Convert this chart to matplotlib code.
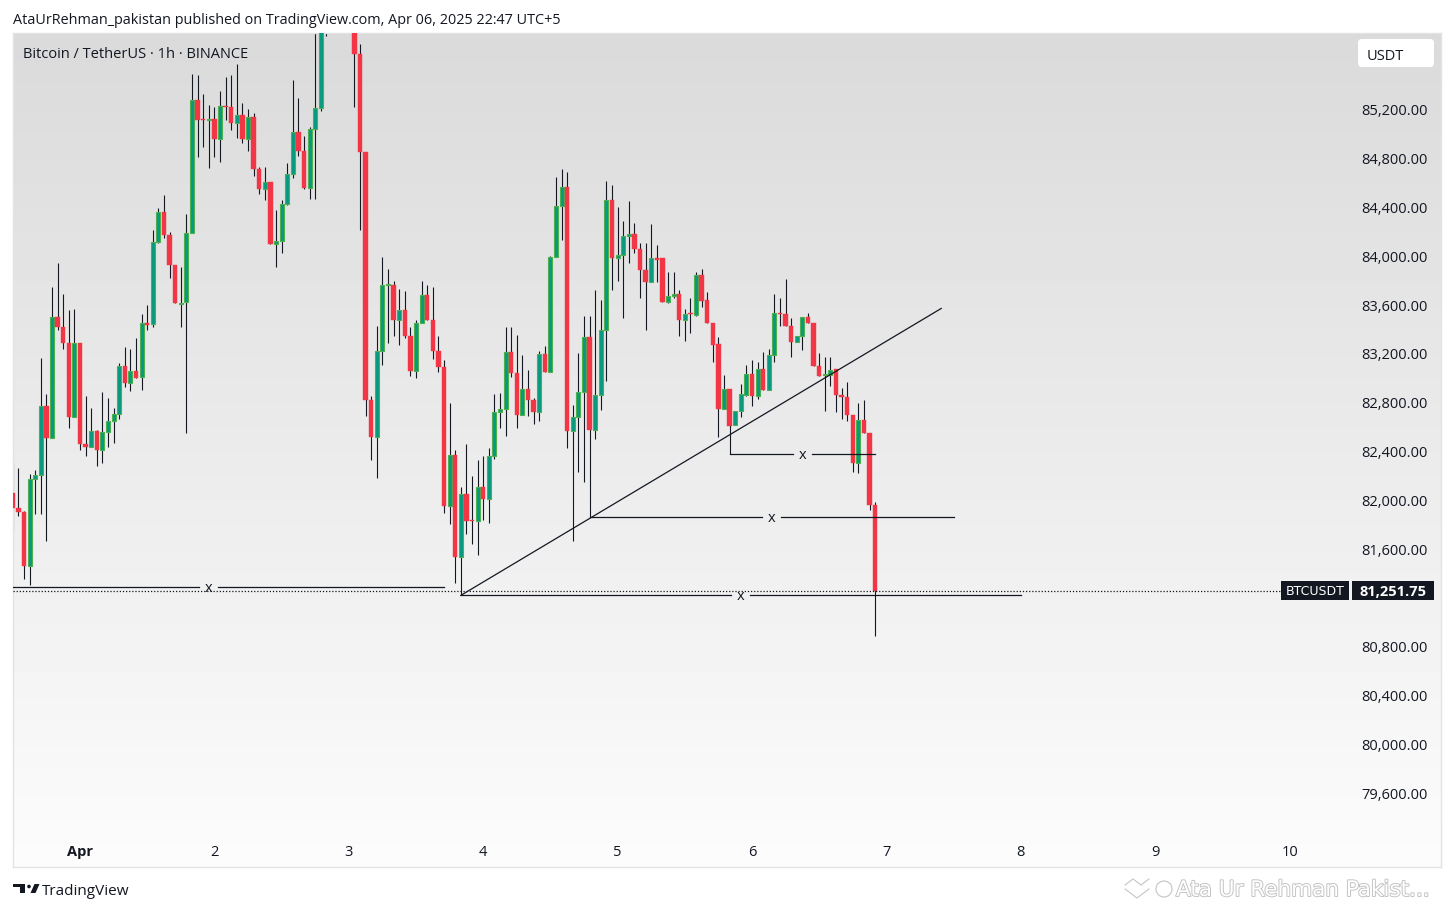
import matplotlib
matplotlib.use("Agg")
import matplotlib.pyplot as plt
import numpy as np
from matplotlib.patches import Rectangle, FancyBboxPatch, Polygon, Circle
from matplotlib import patheffects, font_manager
import matplotlib.transforms as mtransforms

plt.rcParams['font.family'] = ['Open Sans', 'DejaVu Sans']

# BTCUSDT 1h candles (UTC+5), first candle = Mar 31 12:00
start_hour = -12  # hours from Apr 1 00:00
opens = [82051, 81932, 81897, 81456, 82164, 82200, 82766, 82504, 83495, 83409,
         83278, 82677, 83278, 82456, 82427, 82557, 82403, 82552, 82641, 82700,
         83093, 82950, 83052, 83004, 83445, 83439, 84109, 84353, 84165, 83921,
         83600, 83617, 84180, 85276, 85112, 85112, 85118, 84957, 85225, 85216,
         85088, 85148, 84951, 85136, 84704, 84540, 84600, 84094, 84120, 84421,
         84665, 85013, 84853, 84555, 85037, 85207, 86300, 86600, 87000, 87300,
         87800, 88100, 85648, 84844, 82814, 82507, 83218, 83754, 83757, 83474,
         83555, 83340, 83052, 83445, 83677, 83474, 83212, 83087, 81947, 82367,
         81530, 82040, 81825, 81822, 82099, 82001, 82358, 82712, 82742, 83206,
         83034, 82691, 82903, 82814, 82715, 83192, 83043, 83986, 84403, 84558,
         82557, 82677, 82879, 83331, 82566, 82855, 83391, 84457, 83975, 84004,
         84159, 84174, 84049, 83876, 83778, 83975, 83975, 83614, 83668, 83683,
         83468, 83519, 83510, 83839, 83634, 83445, 83273, 82740, 82904, 82609,
         82726, 82858, 83027, 82849, 83068, 82899, 83183, 83527, 83516, 83418,
         83287, 83336, 83492, 83445, 83095, 83017, 83019, 83068, 82858, 82841,
         82691, 82295, 82653, 82543, 81956]
highs = [82298, 82260, 81900, 82209, 82239, 83162, 82864, 83742, 83936, 83683,
         83549, 83564, 83278, 82843, 82745, 82566, 82879, 82834, 82745, 83117,
         83251, 83236, 83325, 83519, 83594, 84204, 84391, 84493, 84189, 83921,
         83906, 84338, 85484, 85475, 85320, 85231, 85216, 85344, 85463, 85475,
         85573, 85246, 85201, 85171, 84725, 84725, 84600, 84368, 84457, 84754,
         85439, 85290, 84978, 85052, 85900, 86500, 86800, 87200, 87600, 88000,
         88500, 88300, 85737, 84844, 82843, 83421, 83986, 83891, 83787, 83727,
         83707, 83409, 83474, 83787, 83757, 83742, 83340, 83141, 82790, 82403,
         82099, 82453, 82188, 82319, 82358, 82418, 82864, 82873, 83409, 83409,
         83349, 83186, 83064, 82834, 83212, 83260, 83995, 84641, 84710, 84686,
         82769, 83198, 83504, 83504, 83713, 83638, 84612, 84576, 84397, 84278,
         84442, 84263, 84100, 84100, 84257, 84085, 83975, 83867, 83867, 83718,
         83558, 83647, 83862, 83888, 83697, 83445, 83328, 83019, 82904, 82726,
         82945, 83101, 83145, 83123, 83205, 83232, 83683, 83648, 83806, 83484,
         83336, 83492, 83527, 83445, 83199, 83164, 83164, 83068, 82912, 82964,
         82691, 82789, 82814, 82543, 81975]
lows = [81733, 81867, 81346, 81301, 81882, 81882, 81658, 82504, 83385, 83236,
        82581, 82677, 82403, 82358, 82427, 82269, 82298, 82432, 82462, 82656,
        82924, 82885, 82992, 82894, 83385, 83409, 84100, 84144, 83817, 83608,
        83415, 82546, 84180, 84808, 84888, 84716, 84808, 84769, 85112, 85028,
        84963, 84918, 84859, 84650, 84501, 84457, 84094, 83906, 84016, 84412,
        84635, 84814, 84546, 84463, 84463, 85186, 85800, 86400, 86800, 87100,
        87500, 85216, 84204, 82685, 82319, 82173, 83102, 83281, 83340, 83266,
        83325, 83013, 82998, 83445, 83468, 83147, 83043, 81888, 81801, 81316,
        81212, 81718, 81635, 81545, 81831, 81807, 82334, 82587, 82516, 83004,
        82581, 82691, 82685, 82617, 82641, 83043, 83043, 83986, 84123, 82418,
        81658, 82224, 82141, 81852, 82492, 82736, 82968, 83718, 83787, 83489,
        83936, 84016, 83647, 83391, 83778, 83778, 83614, 83608, 83653, 83340,
        83296, 83361, 83504, 83574, 83445, 83123, 82513, 82740, 82371, 82609,
        82677, 82849, 82767, 82822, 82899, 82899, 83123, 83418, 83418, 83164,
        83287, 83227, 83445, 83095, 83013, 82726, 82932, 82713, 82658, 82645,
        82226, 82213, 82543, 81915, 80882]
closes = [81932, 81897, 81456, 82170, 82200, 82766, 82504, 83495, 83409, 83278,
          82677, 83278, 82456, 82427, 82557, 82403, 82552, 82641, 82700, 83093,
          82950, 83052, 82998, 83445, 83430, 84109, 84353, 84165, 83921, 83608,
          83612, 84180, 85276, 85106, 85106, 85118, 84957, 85222, 85219, 85088,
          85148, 84951, 85136, 84704, 84540, 84600, 84094, 84120, 84421, 84665,
          85013, 84853, 84555, 85037, 85207, 86300, 86600, 87000, 87300, 87800,
          88100, 85648, 84844, 82814, 82507, 83218, 83757, 83760, 83474, 83555,
          83340, 83052, 83445, 83677, 83474, 83212, 83087, 81947, 82367, 81530,
          82040, 81822, 81819, 82099, 82001, 82358, 82712, 82742, 83206, 83034,
          82691, 82903, 82814, 82715, 83192, 83043, 83986, 84403, 84558, 82557,
          82677, 82879, 83331, 82566, 82855, 83391, 84457, 83975, 84004, 84159,
          84174, 84049, 83876, 83778, 83975, 83966, 83614, 83668, 83683, 83468,
          83519, 83516, 83841, 83628, 83445, 83268, 82740, 82904, 82604, 82726,
          82863, 83027, 82849, 83068, 82899, 83183, 83527, 83516, 83418, 83287,
          83336, 83492, 83445, 83095, 83013, 83022, 83063, 82858, 82841, 82691,
          82295, 82653, 82543, 81956, 81251.75]

last_price = 81251.75
day_ticks = [0, 24, 48, 72, 96, 120, 144, 168, 192, 216]
day_labels = ['Apr', '2', '3', '4', '5', '6', '7', '8', '9', '10']
price_ticks = [85200, 84800, 84400, 84000, 83600, 83200, 82800, 82400, 82000,
               81600, 80800, 80400, 80000, 79600]

# drawn "x" levels: (start hour, end hour, price, label hour)
level_start = [-19, 68, 91, 116]
level_end = [65, 168, 156, 142]
level_price = [81277, 81212, 81852, 82371]
level_mark = [23, 118, 123.5, 129]
trend_hours = [68, 153.8]
trend_prices = [81212, 83565]

W, H = 1454, 912
fig = plt.figure(figsize=(W / 100, H / 100), dpi=100)

# pixel calibration of the original chart
px_apr1 = 80.0
px_hour = 5.6
usd_px = 5600 / 683.0
def px_to_price(y):
    return 85200 - (y - 110) * usd_px
def px_to_hour(x):
    return (x - px_apr1) / px_hour

left, right, top, bottom = 13, 1441, 34, 868
ax = fig.add_axes([left / W, 1 - bottom / H, (right - left) / W, (bottom - top) / H])
x0, x1 = px_to_hour(left), px_to_hour(right)
y0, y1 = px_to_price(bottom), px_to_price(top)
ax.set_xlim(x0, x1)
ax.set_ylim(y0, y1)

grad = np.linspace(0.855, 0.988, 256).reshape(-1, 1)
ax.imshow(grad, cmap='gray', vmin=0, vmax=1, extent=[x0, x1, y0, y1],
          aspect='auto', origin='upper', zorder=0)

o = np.array(opens, dtype=float)
h = np.array(highs, dtype=float)
l = np.array(lows, dtype=float)
c = np.array(closes, dtype=float)
t = start_hour + np.arange(len(o))
up = c >= o

ax.vlines(t, l, h, color='#131722', lw=0.8, zorder=2)
body_lo = np.minimum(o, c)
body_h = np.maximum(np.abs(c - o), 9)
ax.bar(t[up], body_h[up], bottom=body_lo[up], width=0.72, color='#089981',
       edgecolor='#4caf50', linewidth=0.8, zorder=3)
ax.bar(t[~up], body_h[~up], bottom=body_lo[~up], width=0.8, color='#f23645',
       edgecolor='#f23645', linewidth=0.3, zorder=3)

# drawings
gap = 1.7
for xs, xe, p, xm in zip(level_start, level_end, level_price, level_mark):
    ax.plot([xs, xm - gap], [p, p], color='#131722', lw=0.9, zorder=4)
    ax.plot([xm + gap, xe], [p, p], color='#131722', lw=0.9, zorder=4)
    ax.text(xm, p, 'x', ha='center', va='center', fontsize=10.5,
            color='#131722', zorder=4)
ax.plot(trend_hours, trend_prices, color='#131722', lw=0.9, zorder=4)

ax.plot([x0, px_to_hour(1281)], [last_price, last_price], color='#131722',
        lw=0.9, linestyle=(0, (1, 1.5)), zorder=4)

# axes / ticks
ax.yaxis.tick_right()
ax.set_yticks(price_ticks, labels=[f'{p:,.2f}' for p in price_ticks], ha='right')
ax.tick_params(axis='y', length=0, pad=-9.4, labelsize=10.5, labelcolor='#131722')
ax.set_xticks(day_ticks, labels=day_labels, va='center')
ax.tick_params(axis='x', length=0, pad=-11.5, labelsize=10.5, labelcolor='#131722')
ax.get_xticklabels()[0].set_fontweight('bold')
for s in ax.spines.values():
    s.set_color('#e3e3e3')
    s.set_linewidth(1)

# last price labels
names = {f.name for f in font_manager.fontManager.ttflist}
narrow = 'Liberation Sans Narrow' if 'Liberation Sans Narrow' in names else 'DejaVu Sans'
bt = mtransforms.blended_transform_factory(ax.transAxes, ax.transData)
def fx(px):
    return (px - left) / (right - left)
half = 9.5 * usd_px
ax.add_patch(Rectangle((fx(1281), last_price - half), fx(1349) - fx(1281), 2 * half,
                       transform=bt, facecolor='#131722', edgecolor='none', zorder=6))
ax.add_patch(Rectangle((fx(1352), last_price - half), fx(1434) - fx(1352), 2 * half,
                       transform=bt, facecolor='#131722', edgecolor='none', zorder=6))
ax.text(fx(1315), last_price, 'BTCUSDT', transform=bt, ha='center', va='center',
        color='white', fontsize=11 if narrow != 'DejaVu Sans' else 9,
        family=narrow, zorder=7)
ax.text(fx(1393), last_price, '81,251.75', transform=bt, ha='center', va='center',
        color='white', fontsize=10.5, fontweight='bold', zorder=7)

# overlay in pixel coordinates for page chrome
ov = fig.add_axes([0, 0, 1, 1])
ov.set_xlim(0, W)
ov.set_ylim(H, 0)
ov.axis('off')
ov.patch.set_alpha(0)

ov.text(13, 20, 'AtaUrRehman_pakistan published on TradingView.com, Apr 06, 2025 22:47 UTC+5',
        fontsize=10.4, color='#131722', va='center', ha='left')
ov.text(23, 55, 'Bitcoin / TetherUS · 1h · BINANCE', fontsize=10.5,
        color='#131722', va='center', ha='left')
ov.add_patch(FancyBboxPatch((1358, 40), 76, 28, boxstyle='round,pad=0,rounding_size=4',
                            facecolor='white', edgecolor='none'))
ov.text(1367, 56, 'USDT', fontsize=10.5, color='#131722', va='center', ha='left')

# TradingView logo
ov.add_patch(Polygon([(13, 885), (25, 885), (25, 894), (20, 894), (20, 888), (13, 888)],
                     closed=True, facecolor='#131722', edgecolor='none'))
ov.add_patch(Circle((29, 887.5), 1.8, facecolor='#131722', edgecolor='none'))
ov.add_patch(Polygon([(34.5, 885), (39.5, 885), (35.5, 894), (30.5, 894)],
                     closed=True, facecolor='#131722', edgecolor='none'))
ov.text(42, 892, 'TradingView', fontsize=11, color='#131722', va='center', ha='left')

# watermark
wm = '#c4c4c4'
ov.plot([1125, 1133, 1141, 1149], [886, 880, 886, 880], color=wm, lw=0.8)
ov.plot([1125, 1137, 1149], [890, 899, 890], color=wm, lw=0.8)
ov.add_patch(Circle((1164, 890), 8, facecolor='none', edgecolor=wm, lw=0.8))
ov.text(1176, 891, 'Ata Ur Rehman Pakist...', fontsize=15.5, color='white',
        va='center', ha='left', family='DejaVu Sans',
        path_effects=[patheffects.withStroke(linewidth=1.4, foreground=wm)])

fig.savefig('out.png', dpi=100, facecolor='white')
